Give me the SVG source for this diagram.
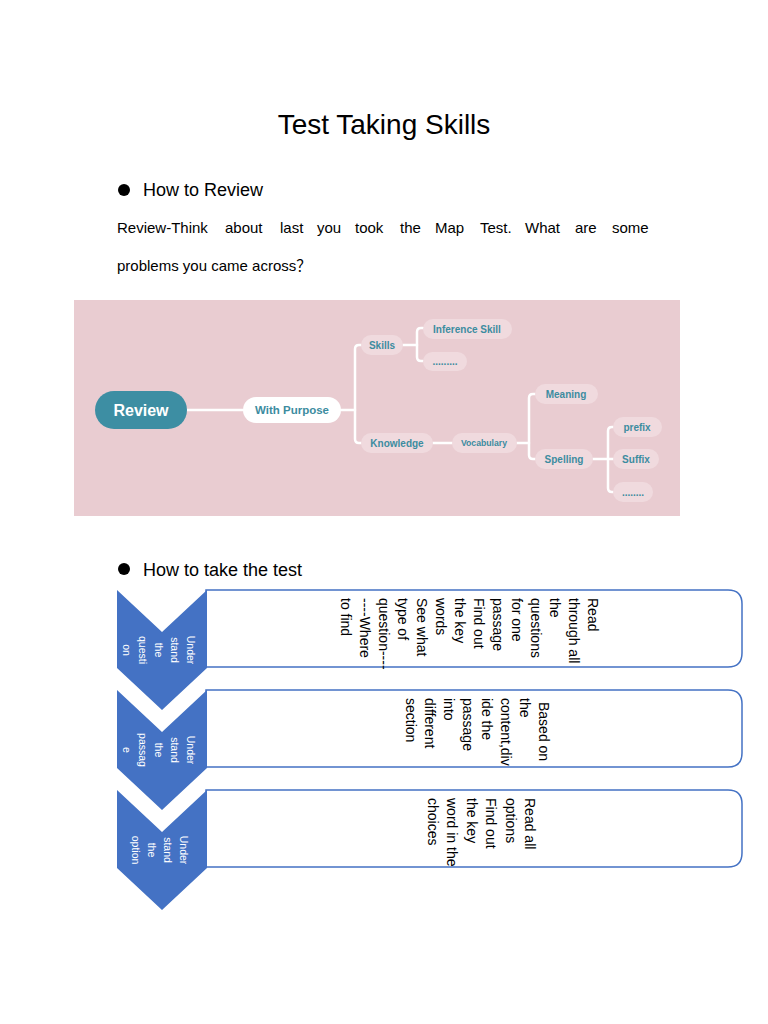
<svg xmlns="http://www.w3.org/2000/svg" width="768" height="1024" viewBox="0 0 768 1024">
<style>
.body{font-family:"Liberation Sans","Noto Sans CJK SC",sans-serif;fill:#000}
.mm{font-family:"Liberation Sans",sans-serif;font-weight:bold;fill:#3C8CA0;text-anchor:middle;dominant-baseline:central}
.pill{fill:#F0DADE}
.conn{fill:none;stroke:#FFFFFF;stroke-width:2.5;stroke-linecap:round}
.chev{fill:#4472C4}
.box{fill:#FFFFFF;stroke:#4472C4;stroke-width:1.5}
.vt{font-family:"Liberation Sans",sans-serif;font-size:14px;fill:#000}
.ct{font-family:"Liberation Sans",sans-serif;font-size:10.5px;fill:#FFFFFF;text-anchor:middle}
</style>
<rect width="768" height="1024" fill="#FFFFFF"/>
<text x="384" y="134" class="body" font-size="28" text-anchor="middle">Test Taking Skills</text>
<circle cx="124" cy="190" r="6" fill="#000"/>
<text x="143" y="196" class="body" font-size="18">How to Review</text>
<g class="body" font-size="15">
<text x="117" y="233">Review-Think</text>
<text x="225" y="233">about</text>
<text x="280" y="233">last</text>
<text x="317" y="233">you</text>
<text x="355" y="233">took</text>
<text x="400" y="233">the</text>
<text x="435" y="233">Map</text>
<text x="480" y="233">Test.</text>
<text x="525" y="233">What</text>
<text x="575" y="233">are</text>
<text x="612" y="233">some</text>
<text x="117" y="271">problems you came across？</text>
</g>
<rect x="74" y="300" width="606" height="216" fill="#E9CCD1"/>
<g id="mm-connectors">
<path class="conn" d="M187,410 H243"/>
<path class="conn" d="M341,410 H355"/>
<path class="conn" d="M361,345 H359 Q355,345 355,349 V439 Q355,443 359,443 H361"/>
<path class="conn" d="M403,345 H417"/>
<path class="conn" d="M423,328 H421 Q417,328 417,332 V357 Q417,361 421,361 H423"/>
<path class="conn" d="M433,443 H452"/>
<path class="conn" d="M517,443 H529"/>
<path class="conn" d="M535,394 H533 Q529,394 529,398 V455 Q529,459 533,459 H535"/>
<path class="conn" d="M593,459 H613"/>
<path class="conn" d="M613,427 H612 Q608,427 608,431 V488 Q608,492 612,492 H613"/>
</g>
<g id="review"><rect x="95" y="391" width="92" height="38" rx="19" fill="#3D8EA3"/><text x="141" y="410" class="mm" font-size="16" fill="#FFFFFF" style="fill:#FFFFFF">Review</text></g>
<g id="with-purpose"><rect x="243" y="397" width="98" height="26" rx="13" fill="#FFFFFF"/><text x="292" y="410" class="mm" font-size="11.5">With Purpose</text></g>
<g id="skills"><rect class="pill" x="361" y="335" width="42" height="20" rx="10"/><text x="382" y="345" class="mm" font-size="10">Skills</text></g>
<g id="inference"><rect class="pill" x="423" y="319" width="89" height="20" rx="10"/><text x="467" y="329" class="mm" font-size="10">Inference Skill</text></g>
<g id="dots1"><rect class="pill" x="423" y="352" width="44" height="19" rx="9.5"/><text x="445" y="361" class="mm" font-size="10">.........</text></g>
<g id="knowledge"><rect class="pill" x="361" y="433" width="72" height="20" rx="10"/><text x="397" y="443" class="mm" font-size="10">Knowledge</text></g>
<g id="vocabulary"><rect class="pill" x="452" y="433" width="65" height="20" rx="10"/><text x="484" y="443" class="mm" font-size="8.7">Vocabulary</text></g>
<g id="meaning"><rect class="pill" x="535" y="384" width="63" height="20" rx="10"/><text x="566" y="394" class="mm" font-size="10">Meaning</text></g>
<g id="spelling"><rect class="pill" x="535" y="449" width="58" height="20" rx="10"/><text x="564" y="459" class="mm" font-size="10">Spelling</text></g>
<g id="prefix"><rect class="pill" x="613" y="417" width="49" height="20" rx="10"/><text x="637" y="427" class="mm" font-size="10">prefix</text></g>
<g id="suffix"><rect class="pill" x="613" y="449" width="46" height="20" rx="10"/><text x="636" y="459" class="mm" font-size="10">Suffix</text></g>
<g id="dots2"><rect class="pill" x="613" y="482" width="40" height="20" rx="10"/><text x="633" y="492" class="mm" font-size="10">........</text></g>
<circle cx="124" cy="569" r="6" fill="#000"/>
<text x="143" y="576" class="body" font-size="18">How to take the test</text>
<g id="step1">
<path class="box" d="M206,590 H728 Q742,590 742,604 V653 Q742,667 728,667 H206 Z"/>
<polygon class="chev" points="117,590 162,632 207,590 207,668 162,710 117,668"/>
<text class="ct" transform="translate(0,650) rotate(90)"><tspan x="0" y="-187">Under</tspan><tspan x="0" y="-171">stand</tspan><tspan x="0" y="-155">the</tspan><tspan x="0" y="-139">questi</tspan><tspan x="0" y="-123">on</tspan></text>
<text class="vt" transform="translate(588,598) rotate(90)"><tspan x="0" y="0">Read</tspan><tspan x="0" dy="19">through all</tspan><tspan x="0" dy="19">the</tspan><tspan x="0" dy="19">questions</tspan><tspan x="0" dy="19">for one</tspan><tspan x="0" dy="19">passage</tspan><tspan x="0" dy="19">Find out</tspan><tspan x="0" dy="19">the key</tspan><tspan x="0" dy="19">words</tspan><tspan x="0" dy="19">See what</tspan><tspan x="0" dy="19">type of</tspan><tspan x="0" dy="19">question----</tspan><tspan x="0" dy="19">----Where</tspan><tspan x="0" dy="19">to find</tspan></text>
</g>
<g id="step2">
<path class="box" d="M206,690 H728 Q742,690 742,704 V753 Q742,767 728,767 H206 Z"/>
<polygon class="chev" points="117,690 162,732 207,690 207,768 162,810 117,768"/>
<text class="ct" transform="translate(0,750) rotate(90)"><tspan x="0" y="-187">Under</tspan><tspan x="0" y="-171">stand</tspan><tspan x="0" y="-155">the</tspan><tspan x="0" y="-139">passag</tspan><tspan x="0" y="-123">e</tspan></text>
<text class="vt" transform="translate(539,698) rotate(90)"><tspan x="4" y="0">Based on</tspan><tspan x="0" dy="19">the</tspan><tspan x="0" dy="19">content,div</tspan><tspan x="0" dy="19">ide the</tspan><tspan x="0" dy="19">passage</tspan><tspan x="0" dy="19">into</tspan><tspan x="0" dy="19">different</tspan><tspan x="0" dy="19">section</tspan></text>
</g>
<g id="step3">
<path class="box" d="M206,790 H728 Q742,790 742,804 V853 Q742,867 728,867 H206 Z"/>
<polygon class="chev" points="117,790 162,832 207,790 207,868 162,910 117,868"/>
<text class="ct" transform="translate(0,850) rotate(90)"><tspan x="0" y="-180">Under</tspan><tspan x="0" y="-164">stand</tspan><tspan x="0" y="-148">the</tspan><tspan x="0" y="-132">option</tspan></text>
<text class="vt" transform="translate(525,798) rotate(90)"><tspan x="0" y="0">Read all</tspan><tspan x="0" dy="19.4">options</tspan><tspan x="0" dy="19.4">Find out</tspan><tspan x="0" dy="19.4">the key</tspan><tspan x="0" dy="19.4">word in the</tspan><tspan x="0" dy="19.4">choices</tspan></text>
</g>
</svg>
